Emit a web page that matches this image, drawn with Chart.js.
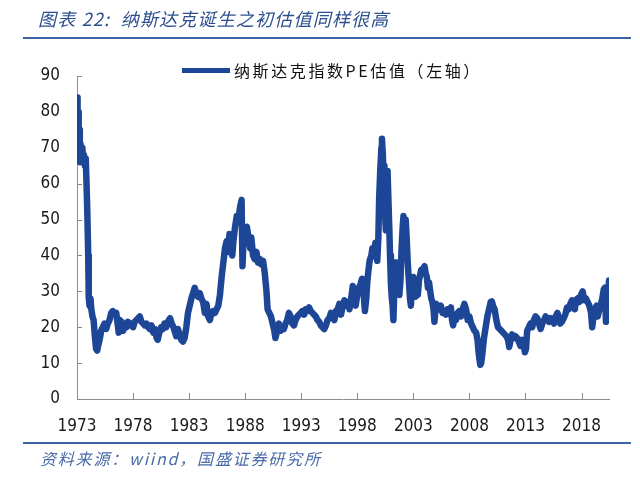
<!DOCTYPE html>
<html>
<head>
<meta charset="utf-8">
<script src="https://cdn.jsdelivr.net/npm/chart.js@4.4.1/dist/chart.umd.min.js"></script>
<style>
  html, body { margin: 0; padding: 0; background: #fff; }
  #wrap { position: relative; width: 640px; height: 492px; overflow: hidden; }
  #chart { position: absolute; left: 0; top: 0; }
  .titulo {
    position: absolute; left: 38px; top: 5px;
    font-family: "Noto Sans CJK SC", sans-serif; font-style: italic;
    font-size: 18px; letter-spacing: 1.2px; color: #2d4f8e; white-space: nowrap;
  }
  .regla { position: absolute; left: 23px; width: 608px; height: 2px; background: #3c63a6; }
  .fuente {
    position: absolute; left: 40px; top: 446px;
    font-family: "Noto Sans CJK SC", sans-serif; font-style: italic;
    font-size: 16px; letter-spacing: 1.8px; color: #4a6aa8; white-space: nowrap;
  }
  .leyenda-linea { position: absolute; left: 182px; top: 68px; width: 48px; height: 5px; background: #1d4696; }
  .leyenda-texto {
    position: absolute; left: 234px; top: 60px; line-height: 20px;
    font-family: "Noto Sans CJK SC", sans-serif; font-size: 16px;
    letter-spacing: 2.6px; color: #111; white-space: nowrap;
  }
</style>
</head>
<body>
<div id="wrap">
  <canvas id="chart" width="640" height="492"></canvas>
  <div class="titulo">图表 22:&nbsp; 纳斯达克诞生之初估值同样很高</div>
  <div class="regla" style="top:37px"></div>
  <div class="leyenda-linea"></div>
  <div class="leyenda-texto">纳斯达克指数PE估值（左轴）</div>
  <div class="regla" style="top:442px"></div>
  <div class="fuente">资料来源：wiind，国盛证券研究所</div>
</div>
<script>
// ===== Datos =====
const anios = [
  1973.00, 1973.05, 1973.10, 1973.15, 1973.20, 1973.25, 1973.32, 1973.40, 1973.48, 1973.55,
  1973.62, 1973.70, 1973.78, 1973.85, 1973.92, 1974.00, 1974.05, 1974.12, 1974.20, 1974.28,
  1974.38, 1974.48, 1974.58, 1974.70, 1974.80, 1974.90, 1975.05, 1975.15, 1975.30, 1975.45,
  1975.60, 1975.75, 1975.90, 1976.05, 1976.20, 1976.35, 1976.50, 1976.62, 1976.72, 1976.82,
  1976.92, 1977.02, 1977.12, 1977.25, 1977.40, 1977.55, 1977.70, 1977.85, 1978.00, 1978.15,
  1978.30, 1978.45, 1978.60, 1978.75, 1978.90, 1979.05, 1979.20, 1979.35, 1979.50, 1979.65,
  1979.80, 1979.95, 1980.10, 1980.20, 1980.35, 1980.50, 1980.65, 1980.80, 1980.95, 1981.10,
  1981.30, 1981.45, 1981.60, 1981.75, 1981.85, 1982.00, 1982.15, 1982.30, 1982.45, 1982.60,
  1982.75, 1982.90, 1983.05, 1983.20, 1983.35, 1983.50, 1983.65, 1983.80, 1983.95, 1984.10,
  1984.25, 1984.40, 1984.55, 1984.70, 1984.85, 1985.00, 1985.15, 1985.30, 1985.45, 1985.60,
  1985.75, 1985.90, 1986.05, 1986.20, 1986.35, 1986.50, 1986.60, 1986.75, 1986.85, 1986.95,
  1987.10, 1987.25, 1987.40, 1987.55, 1987.68, 1987.76, 1987.85, 1988.00, 1988.15, 1988.30,
  1988.45, 1988.55, 1988.70, 1988.85, 1989.00, 1989.15, 1989.30, 1989.45, 1989.60, 1989.75,
  1989.90, 1990.00, 1990.15, 1990.30, 1990.45, 1990.60, 1990.70, 1990.85, 1991.00, 1991.15,
  1991.30, 1991.45, 1991.60, 1991.75, 1991.90, 1992.05, 1992.20, 1992.35, 1992.50, 1992.65,
  1992.80, 1992.95, 1993.10, 1993.25, 1993.40, 1993.55, 1993.70, 1993.85, 1994.00, 1994.15,
  1994.30, 1994.45, 1994.60, 1994.75, 1994.90, 1995.05, 1995.20, 1995.35, 1995.50, 1995.65,
  1995.80, 1995.95, 1996.10, 1996.25, 1996.40, 1996.55, 1996.70, 1996.85, 1997.00, 1997.15,
  1997.30, 1997.45, 1997.60, 1997.72, 1997.85, 1998.00, 1998.15, 1998.30, 1998.42, 1998.55,
  1998.68, 1998.80, 1998.90, 1999.00, 1999.10, 1999.25, 1999.35, 1999.50, 1999.62, 1999.72,
  1999.78, 1999.88, 1999.95, 2000.05, 2000.15, 2000.20, 2000.28, 2000.35, 2000.42, 2000.50,
  2000.55, 2000.62, 2000.70, 2000.78, 2000.85, 2000.92, 2001.00, 2001.08, 2001.15, 2001.22,
  2001.30, 2001.38, 2001.45, 2001.55, 2001.65, 2001.75, 2001.85, 2001.95, 2002.05, 2002.12,
  2002.22, 2002.32, 2002.40, 2002.50, 2002.60, 2002.70, 2002.78, 2002.88, 2003.00, 2003.10,
  2003.20, 2003.30, 2003.40, 2003.50, 2003.60, 2003.70, 2003.80, 2003.90, 2004.00, 2004.10,
  2004.20, 2004.30, 2004.40, 2004.50, 2004.60, 2004.70, 2004.80, 2004.88, 2004.95, 2005.05,
  2005.15, 2005.30, 2005.45, 2005.60, 2005.75, 2005.90, 2006.05, 2006.20, 2006.35, 2006.45,
  2006.55, 2006.65, 2006.80, 2006.95, 2007.10, 2007.25, 2007.40, 2007.55, 2007.70, 2007.85,
  2008.00, 2008.15, 2008.30, 2008.45, 2008.60, 2008.72, 2008.82, 2008.90, 2008.97, 2009.05,
  2009.15, 2009.30, 2009.45, 2009.60, 2009.75, 2009.90, 2010.00, 2010.10, 2010.25, 2010.40,
  2010.55, 2010.70, 2010.85, 2011.00, 2011.15, 2011.30, 2011.45, 2011.55, 2011.65, 2011.80,
  2011.95, 2012.10, 2012.25, 2012.40, 2012.55, 2012.70, 2012.85, 2012.95, 2013.05, 2013.15,
  2013.30, 2013.45, 2013.60, 2013.75, 2013.90, 2014.05, 2014.20, 2014.35, 2014.50, 2014.65,
  2014.80, 2014.95, 2015.10, 2015.25, 2015.40, 2015.55, 2015.70, 2015.85, 2015.95, 2016.10,
  2016.25, 2016.40, 2016.55, 2016.70, 2016.85, 2017.00, 2017.15, 2017.30, 2017.40, 2017.50,
  2017.65, 2017.80, 2017.95, 2018.10, 2018.25, 2018.40, 2018.55, 2018.70, 2018.85, 2018.95,
  2019.05, 2019.20, 2019.35, 2019.45, 2019.55, 2019.70, 2019.85, 2019.98, 2020.08, 2020.18,
  2020.28, 2020.38, 2020.45
];

const pe = [
  84, 78, 80, 70, 75, 66, 71, 67, 70, 66,
  68, 65, 67, 60, 52, 40, 28, 26, 28, 25,
  23, 22, 18, 14, 13.5, 15, 17, 19, 20, 21,
  19.5, 21, 22, 24, 24.5, 23.5, 24, 21, 18.5, 22,
  20, 21.5, 19, 21, 20, 21.5, 20.5, 21, 20, 21.5,
  22, 22.5, 23, 21.5, 21, 20.5, 21, 20, 19.5, 20.5,
  18.5, 19.5, 17, 16.5, 18.5, 20, 19.5, 21, 20, 21.5,
  22.5, 21, 20, 18.5, 17.5, 19.5, 18, 16.5, 16, 17,
  20, 24, 26, 28, 29.5, 31, 29, 28.5, 29.5, 28,
  27, 24, 26.5, 23, 22, 24, 24.5, 24, 25, 26,
  29, 34, 38, 42, 44, 41, 46, 42, 40, 44,
  48, 51, 50, 53.5, 55.5, 37, 44, 46, 48, 45,
  42, 45, 40, 39, 41, 38, 39, 37.5, 38.5, 35,
  30, 25, 24, 23, 21, 19, 17, 19, 21, 19,
  20, 19.5, 21, 22, 24, 23, 21, 20.5, 22, 23,
  23.5, 24, 24.5, 23.5, 25, 24.5, 25.5, 24.5, 24, 23.5,
  23, 22, 21.5, 20.5, 20, 19.5, 20.5, 22, 22.5, 24,
  23, 22, 24.5, 25, 26.5, 23.5, 26, 27.5, 26, 27,
  25, 28, 31.5, 28, 26, 29, 31, 32, 33.5, 30,
  24.5, 28, 33, 36, 38.5, 40, 42, 41, 43.5, 40,
  38.5, 45, 56, 64, 70, 72.5, 68, 60, 65, 50,
  47, 56, 63.5, 55, 48, 40, 32, 28, 26, 22,
  30, 38, 33, 37, 34, 29, 33, 42, 48, 51,
  49, 50, 45, 38, 33, 28, 26, 32, 34, 30,
  28.5, 31, 29, 33, 34.5, 36, 35, 36.5, 37, 35,
  34, 31, 32.5, 30, 28, 27, 25, 21.5, 24, 26.5,
  25.5, 25, 26, 24, 24.5, 23.5, 25, 24.5, 25.5, 22,
  20.5, 23, 22, 24, 24.5, 23, 25, 26.5, 25, 22,
  23, 21, 20, 19, 18.5, 16.5, 13, 11, 9.5, 10,
  12.5, 17, 20, 23, 25, 27, 27.2, 26, 25, 22,
  20, 19.5, 19, 18.5, 18, 17.5, 16.5, 14.5, 16, 18,
  17, 17.5, 17, 16, 14.8, 16.5, 15, 13, 14, 19,
  20, 21, 20, 22, 23, 22.5, 21, 19.5, 21, 22,
  23, 22, 21.5, 22.5, 22, 21, 23, 24, 23, 21,
  21.5, 22.5, 23.5, 25.5, 25, 26.5, 27.5, 27, 25, 27.5,
  28, 27, 29, 30, 27.5, 28, 27, 26, 24, 20,
  22.5, 25, 26, 23, 24.5, 26, 28, 30.5, 31, 21.5,
  26, 29, 33
];

const aniosEje = [1973, 1978, 1983, 1988, 1993, 1998, 2003, 2008, 2013, 2018];
const valoresEje = [0, 10, 20, 30, 40, 50, 60, 70, 80, 90];

const COLOR_LINEA = '#1d4696';
const FUENTE_EJES = { family: '"DejaVu Sans Condensed", "Liberation Sans", sans-serif', size: 17 };

// marcas de eje hacia dentro del área del gráfico
const marcasInternas = {
  id: 'marcasInternas',
  beforeDatasetsDraw(chart) {
    const { ctx, chartArea: a, scales: { x, y } } = chart;
    ctx.save();
    ctx.strokeStyle = '#8c8c8c';
    ctx.lineWidth = 1;
    ctx.beginPath();
    aniosEje.forEach(v => {
      const px = Math.round(x.getPixelForValue(v)) + 0.5;
      ctx.moveTo(px, a.bottom);
      ctx.lineTo(px, a.bottom - 6);
    });
    valoresEje.forEach(v => {
      const py = Math.round(y.getPixelForValue(v)) + 0.5;
      ctx.moveTo(a.left, py);
      ctx.lineTo(a.left + 5, py);
    });
    ctx.stroke();
    ctx.restore();
  }
};

new Chart(document.getElementById('chart'), {
  type: 'line',
  data: {
    datasets: [{
      label: '纳斯达克指数PE估值（左轴）',
      data: anios.map((a, i) => ({ x: a, y: pe[i] })),
      borderColor: COLOR_LINEA,
      borderWidth: 6.5,
      borderJoinStyle: 'round',
      borderCapStyle: 'round',
      pointRadius: 0,
      tension: 0,
      fill: false
    }]
  },
  options: {
    responsive: false,
    animation: false,
    layout: { padding: { top: 76, right: 31, left: 0, bottom: 0 } },
    plugins: { legend: { display: false }, tooltip: { enabled: false } },
    scales: {
      x: {
        type: 'linear',
        min: 1973,
        max: 2020.45,
        afterFit: s => { s.height = 93; },
        afterBuildTicks: s => { s.ticks = aniosEje.map(v => ({ value: v })); },
        grid: { display: false, drawTicks: false },
        border: { display: true, color: '#8c8c8c', width: 1 },
        ticks: {
          color: '#1a1a1a', font: FUENTE_EJES, padding: 17,
          maxRotation: 0, autoSkip: false,
          callback: v => String(v)
        }
      },
      y: {
        min: 0,
        max: 90,
        afterFit: s => { s.width = 77; },
        afterBuildTicks: s => { s.ticks = valoresEje.map(v => ({ value: v })); },
        grid: { display: false, drawTicks: false },
        border: { display: true, color: '#8c8c8c', width: 1 },
        ticks: { color: '#1a1a1a', font: FUENTE_EJES, padding: 17, callback: v => String(v) }
      }
    }
  },
  plugins: [marcasInternas]
});
</script>
</body>
</html>
